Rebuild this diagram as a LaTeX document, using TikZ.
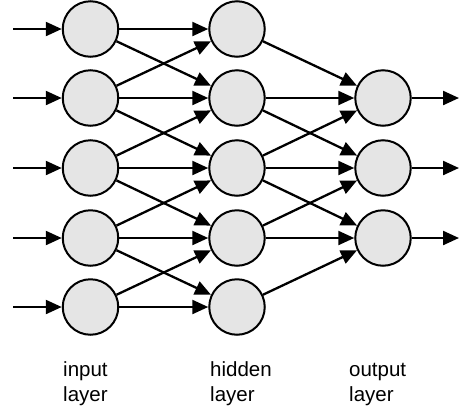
\documentclass[tikz,border=0pt]{standalone}
\usepackage{fontspec}
\setmainfont{Liberation Sans}
\usetikzlibrary{arrows.meta}
\begin{document}
\begin{tikzpicture}[x=1pt,y=-1pt,
  neuron/.style={circle,draw=black,line width=2pt,fill=gray!20,minimum size=55.5pt,inner sep=0pt},
  conn/.style={line width=2.3pt,-{Triangle[length=16pt,width=14pt]}},
  lbl/.style={align=left,anchor=base west,inner sep=0pt,font=\fontsize{20.5}{25}\selectfont}]
\useasboundingbox (0,0) rectangle (474,405);
\foreach \i/\y in {1/29,2/98,3/168,4/238,5/307} {
  \node[neuron] (I\i) at (90.5,\y) {};
  \node[neuron] (H\i) at (237,\y) {};
  \coordinate (S\i) at (13,\y);
  \draw[conn] (S\i) -- (I\i);
}
\foreach \k/\y in {1/98,2/168,3/238} {
  \node[neuron] (O\k) at (383,\y) {};
  \coordinate (E\k) at (459,\y);
  \draw[conn] (O\k) -- (E\k);
}
\foreach \i/\j in {1/1,1/2,2/1,2/2,2/3,3/2,3/3,3/4,4/3,4/4,4/5,5/4,5/5} {
  \draw[conn] (I\i) -- (H\j);
}
\foreach \j/\k in {1/1,2/1,2/2,3/1,3/2,3/3,4/2,4/3,5/3} {
  \draw[conn] (H\j) -- (O\k);
}
\node[lbl] (L1) at (63,401) {input\\layer};
\node[lbl] (L2) at (210,401) {hidden\\layer};
\node[lbl] (L3) at (349,401) {output\\layer};
\end{tikzpicture}
\end{document}
